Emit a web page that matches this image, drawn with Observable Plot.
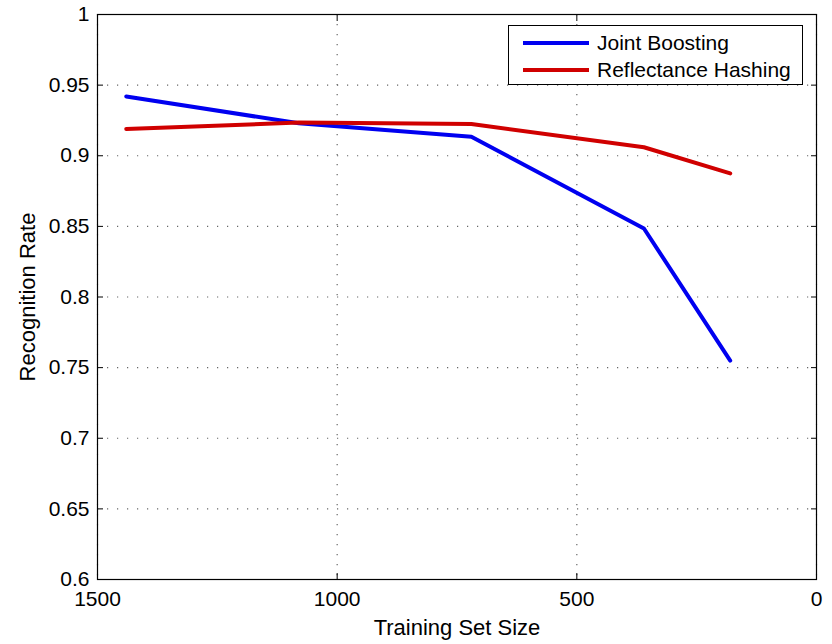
<!DOCTYPE html>
<html><head><meta charset="utf-8">
<script src="https://cdn.jsdelivr.net/npm/d3@7"></script>
<script src="https://cdn.jsdelivr.net/npm/@observablehq/plot@0.6"></script>
<style>
body{margin:0;background:#fff;}
#wrap{position:relative;width:832px;height:644px;font-family:"Liberation Sans",Arial,Helvetica,sans-serif;}
#legend{position:absolute;left:508px;top:25px;width:295px;height:60px;border:1px solid #000;background:#fff;box-sizing:border-box;}
.row{position:absolute;left:0;height:24px;}
.swatch{position:absolute;left:14px;width:66px;height:4px;}
.lbl{position:absolute;left:88px;font-size:21px;white-space:nowrap;line-height:24px;color:#000;}
</style></head>
<body><div id="wrap"></div>
<script>
const trainingSizes = [1440, 1080, 720, 360, 180];
const jointBoosting = [0.942, 0.923, 0.9135, 0.8485, 0.755];
const reflectanceHashing = [0.919, 0.9235, 0.9225, 0.906, 0.8875];
const seriesNames = ["Joint Boosting", "Reflectance Hashing"];
const seriesColors = ["#0000f0", "#d00000"];
const xTicks = [1500, 1000, 500, 0];
const yTicks = [0.6, 0.65, 0.7, 0.75, 0.8, 0.85, 0.9, 0.95, 1];

const rows = [];
trainingSizes.forEach((s, i) => {
  rows.push({size: s, rate: jointBoosting[i], series: seriesNames[0]});
});
trainingSizes.forEach((s, i) => {
  rows.push({size: s, rate: reflectanceHashing[i], series: seriesNames[1]});
});

const gridStyle = {stroke: "#666", strokeOpacity: 1, strokeWidth: 1.2, strokeDasharray: "1.2,8.8"};

const chart = Plot.plot({
  width: 832, height: 644,
  marginLeft: 97, marginRight: 16, marginTop: 14, marginBottom: 65,
  style: {fontFamily: '"Liberation Sans", Arial, Helvetica, sans-serif', fontSize: "21px", color: "black", background: "white"},
  x: {domain: [1500, 0]},
  y: {domain: [0.6, 1]},
  color: {domain: seriesNames, range: seriesColors},
  marks: [
    Plot.gridX(xTicks, gridStyle),
    Plot.gridY(yTicks, gridStyle),
    Plot.axisX(xTicks, {anchor: "bottom", tickSize: 0, tickPadding: 12, label: null, fontSize: 21, tickFormat: d => String(d)}),
    Plot.axisX(xTicks, {anchor: "bottom", tickSize: -6, text: null, label: null}),
    Plot.axisX(xTicks, {anchor: "top", tickSize: -6, text: null, label: null}),
    Plot.axisY(yTicks, {anchor: "left", tickSize: 0, tickPadding: 8, label: null, fontSize: 21, tickFormat: d => String(+d.toFixed(2))}),
    Plot.axisY(yTicks, {anchor: "left", tickSize: -6, text: null, label: null}),
    Plot.axisY(yTicks, {anchor: "right", tickSize: -6, text: null, label: null}),
    Plot.line(rows, {x: "size", y: "rate", z: "series", stroke: "series", strokeWidth: 4}),
    Plot.frame({stroke: "black", strokeWidth: 1.2}),
    Plot.text(["Recognition Rate"], {frameAnchor: "left", rotate: -90, dx: -70, textAnchor: "middle", lineAnchor: "middle", fontSize: 22, text: d => d}),
    Plot.text(["Training Set Size"], {frameAnchor: "bottom", dy: 48, textAnchor: "middle", lineAnchor: "middle", fontSize: 22, text: d => d})
  ]
});
const wrap = document.getElementById("wrap");
wrap.appendChild(chart);

const legend = document.createElement("div");
legend.id = "legend";
seriesNames.forEach((name, i) => {
  const row = document.createElement("div");
  row.className = "row";
  row.style.top = (i === 0 ? 5 : 32) + "px";
  row.style.width = "100%";
  const sw = document.createElement("div");
  sw.className = "swatch";
  sw.style.background = seriesColors[i];
  sw.style.top = "10px";
  const lb = document.createElement("div");
  lb.className = "lbl";
  lb.textContent = name;
  lb.style.top = "0px";
  row.appendChild(sw);
  row.appendChild(lb);
  legend.appendChild(row);
});
wrap.appendChild(legend);
</script>
</body></html>
